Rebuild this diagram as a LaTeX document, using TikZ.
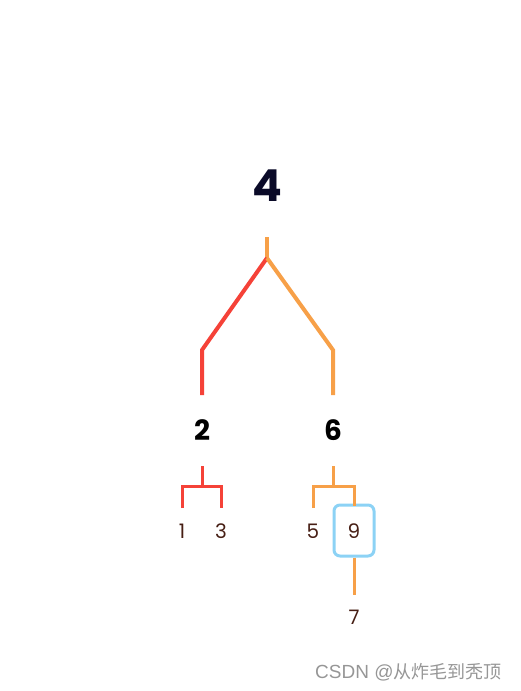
\documentclass[tikz,border=0pt]{standalone}
\usepackage{fontspec}
\setmainfont{Poppins}
\newfontfamily\cjkwm{Noto Sans CJK SC}
\newfontfamily\latwm{Liberation Sans}
\definecolor{tred}{RGB}{245,66,56}
\definecolor{torange}{RGB}{247,160,72}
\definecolor{tnavy}{RGB}{10,10,40}
\definecolor{tbrown}{RGB}{70,30,20}
\definecolor{tblue}{RGB}{140,210,245}
\definecolor{tgray}{RGB}{150,150,150}
\tikzset{
  big/.style={font=\fontsize{44}{48}\selectfont\bfseries, text=tnavy, inner sep=0pt},
  mid/.style={font=\fontsize{28}{32}\selectfont\bfseries, text=black, inner sep=0pt},
  small/.style={font=\fontsize{20}{24}\selectfont, text=tbrown, inner sep=0pt},
  thick1/.style={line width=4pt},
  thick2/.style={line width=3pt},
  box/.style={draw=tblue, line width=3pt, rounded corners=6pt}
}
\begin{document}
\begin{tikzpicture}[x=1pt,y=-1pt]
\useasboundingbox (0,0) rectangle (521,691);
\node[big] (n4) at (267,186) {4};
\node[mid] (n2) at (202,430) {2};
\node[mid] (n6) at (333,430) {6};
\node[small] (n1) at (182,531) {1};
\node[small] (n3) at (221,531) {3};
\node[small] (n5) at (313,531) {5};
\node[small] (n9) at (354,531) {9};
\node[small] (n7) at (354,617) {7};
\node[box, minimum width=40pt, minimum height=51pt] (b9) at (354,530.5) {};
% coordinates
\coordinate (top) at (267,237);
\coordinate (fork) at (267,258);
\coordinate (lk) at (202,350);
\coordinate (le) at (202,395);
\coordinate (rk) at (333,350);
\coordinate (re) at (333,395);
\draw[torange, thick1] (top) -- (fork);
\draw[tred, thick1, line join=miter] (fork) -- (lk) -- (le);
\draw[torange, thick1, line join=miter] (fork) -- (rk) -- (re);
% left bracket
\draw[tred, thick2] (202,466) -- (202,486);
\draw[tred, thick2] (182,508) -- (182,486) -- (221,486) -- (221,508);
% right bracket
\draw[torange, thick2] (333,466) -- (333,486);
\draw[torange, thick2] (313,508) -- (313,486) -- (354,486) -- (354,506);
\draw[torange, thick2] (b9.south) -- (354,595);
\node[text=tgray, inner sep=0pt, anchor=west] (wm) at (315,672) {\fontsize{19}{22}\selectfont\latwm CSDN @\fontsize{18}{22}\selectfont\cjkwm 从炸毛到秃顶};
\end{tikzpicture}
\end{document}
